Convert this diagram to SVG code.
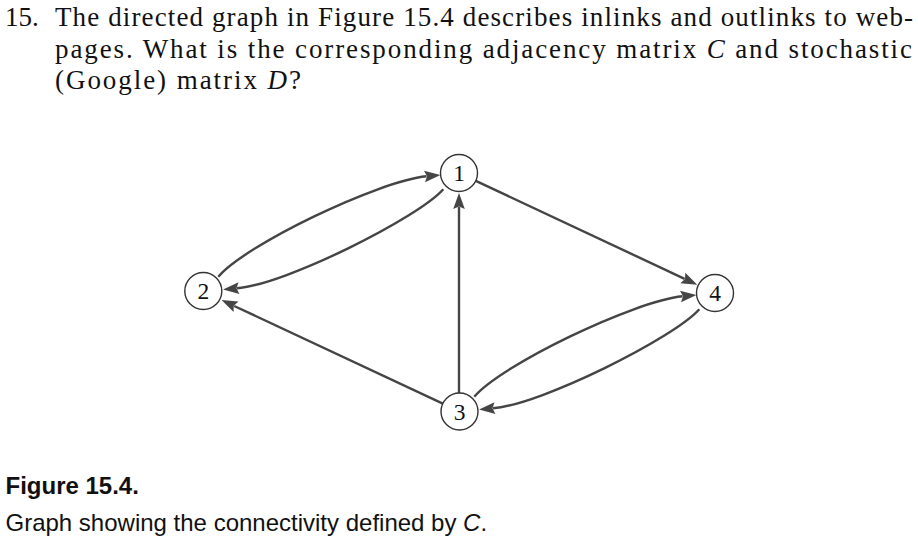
<svg xmlns="http://www.w3.org/2000/svg" width="918" height="540" viewBox="0 0 918 540">
<style>
.title{font-family:"Liberation Serif",serif;font-size:27px;fill:#111}
.cap{font-family:"Liberation Sans",Arial,sans-serif;font-size:24px;fill:#111}
.node circle{fill:#fff;stroke:#333;stroke-width:1.4}
.node text{font-family:"Liberation Serif",serif;font-size:23.5px;fill:#111;text-anchor:middle}
.edge{fill:none;stroke:#454545;stroke-width:2.4;marker-end:url(#arr)}
</style>
<defs>
<marker id="arr" markerUnits="userSpaceOnUse" viewBox="-1 -7 18 14" markerWidth="18" markerHeight="14" refX="2" refY="0" orient="auto">
<path d="M0,-5.8 L16,0 L0,5.8 L2.5,0 Z" fill="#454545"/>
</marker>
</defs>
<rect width="918" height="540" fill="#fff"/>
<g id="question">
<text class="title" x="5" y="26">15.</text>
<text class="title" x="55" y="26" textLength="858" lengthAdjust="spacing">The directed graph in Figure 15.4 describes inlinks and outlinks to web-</text>
<text class="title" x="55" y="57.5" textLength="857" lengthAdjust="spacing">pages. What is the corresponding adjacency matrix <tspan font-style="italic">C</tspan> and stochastic</text>
<text class="title" x="55" y="89" textLength="246" lengthAdjust="spacing">(Google) matrix <tspan font-style="italic">D</tspan>?</text>
</g>
<g id="connectors">
<path class="edge" d="M475.8,180.9 L684.6,278.8"/>
<path class="edge" d="M459,393 L459,207"/>
<path class="edge" d="M442.8,403.6 L234.2,306"/>
<path class="edge" d="M218.3,276.7 C245,245 378,181 426.5,176.3"/>
<path class="edge" d="M443.3,189.3 C418,218 285,284.5 237,288.3"/>
<g transform="translate(256,120)">
<path class="edge" d="M218.3,276.7 C245,245 378,181 426.5,176.3"/>
<path class="edge" d="M443.3,189.3 C418,218 285,284.5 237,288.3"/>
</g>
</g>
<g id="node1" class="node"><circle cx="459" cy="173" r="18.5"/><text x="459" y="181">1</text></g>
<g id="node2" class="node"><circle cx="203.3" cy="291" r="18.5"/><text x="203.3" y="299">2</text></g>
<g id="node3" class="node"><circle cx="459.5" cy="411.5" r="18.5"/><text x="459.5" y="419.5">3</text></g>
<g id="node4" class="node"><circle cx="715" cy="293" r="18.5"/><text x="715" y="301">4</text></g>
<g id="caption">
<text class="cap" x="5.5" y="494" font-weight="bold">Figure 15.4.</text>
<text class="cap" x="5.5" y="531">Graph showing the connectivity defined by <tspan font-style="italic">C</tspan>.</text>
</g>
</svg>
